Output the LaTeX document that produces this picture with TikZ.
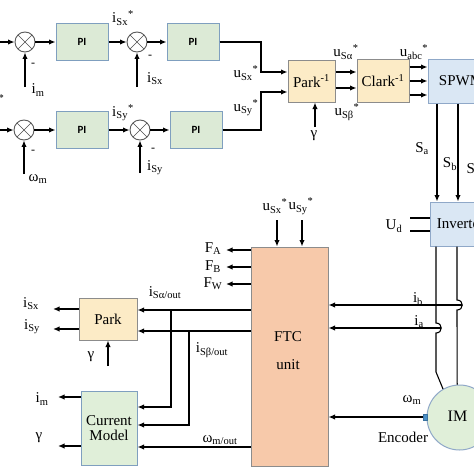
\documentclass[tikz,border=0pt]{standalone}
\usepackage{fontspec}
\setmainfont{Liberation Serif}
\newfontfamily\pifont{Carlito}
\usetikzlibrary{arrows.meta}
\definecolor{pifill}{HTML}{DCEAD6}
\definecolor{pibd}{HTML}{7F9FBF}
\definecolor{pkfill}{HTML}{FCEBC6}
\definecolor{pkbd}{HTML}{8C8C8C}
\definecolor{blfill}{HTML}{DAE7F4}
\definecolor{blbd}{HTML}{8FA8C8}
\definecolor{ftcfill}{HTML}{F7C9AA}
\definecolor{cmfill}{HTML}{E0EFD9}
\definecolor{encc}{HTML}{4A90C8}
\newcommand{\sx}[2]{#1\textsubscript{#2}}
\newcommand{\sxs}[2]{#1\textsubscript{#2}\textsuperscript{*}}
\begin{document}
\begin{tikzpicture}[x=1pt,y=-1pt,line width=1.3pt,
  >={Latex[length=6.5pt,width=5.5pt]},
  lab/.style={inner sep=0pt,font=\fontsize{15}{17}\selectfont},
  minus/.style={inner sep=0pt,font=\fontsize{12}{14}\selectfont},
  sumnode/.style={circle,draw=black!65,line width=0.9pt,fill=white,minimum size=20pt,inner sep=0pt,
    path picture={\draw[line width=0.7pt,black!70]
      (path picture bounding box.north west)--(path picture bounding box.south east)
      (path picture bounding box.north east)--(path picture bounding box.south west);}},
  pibox/.style={draw=pibd,fill=pifill,line width=1pt,minimum width=52pt,minimum height=37pt,inner sep=0pt,
    font=\pifont\bfseries\fontsize{11}{13}\selectfont},
  pkbox/.style={draw=pkbd,fill=pkfill,line width=1pt,inner sep=0pt,font=\fontsize{15}{17}\selectfont},
  blbox/.style={draw=blbd,fill=blfill,line width=1pt,inner sep=0pt,font=\fontsize{15}{17}\selectfont},
]
\useasboundingbox (0,0) rectangle (474,474);
\fill[white] (0,0) rectangle (474,474);
\clip (0,0) rectangle (474,474);

% ---------- nodes ----------
\node[sumnode] (s1) at (25,42) {};
\node[pibox] (pi1) at (82,42) {PI};
\node[sumnode] (s2) at (137,42) {};
\node[pibox] (pi2) at (193,42) {PI};
\node[sumnode] (s3) at (24,130) {};
\node[pibox] (pi3) at (82,130) {PI};
\node[sumnode] (s4) at (140,130) {};
\node[pibox] (pi4) at (196,130) {PI};

\node[pkbox,minimum width=47pt,minimum height=42pt] (park1) at (311.5,81) {Park\textsuperscript{-1}};
\node[pkbox,minimum width=52pt,minimum height=43pt] (clark) at (383,80.5) {Clark\textsuperscript{-1}};
\node[blbox,minimum width=66pt,minimum height=44pt] (spwm) at (461,81) {SPWM};
\node[blbox,minimum width=61pt,minimum height=44pt] (inv) at (460.5,224) {Inverter};

\node[pkbox,fill=ftcfill,minimum width=77pt,minimum height=219pt,align=center] (ftc) at (289.5,356.5) {};
\node[lab] (ftct) at (288,337) {FTC};
\node[lab] (ftcu) at (288,365) {unit};

\node[pkbox,minimum width=58pt,minimum height=42pt] (park2) at (108,319) {Park};
\node[pkbox,draw=pibd,fill=cmfill,minimum width=56pt,minimum height=74pt,align=center] (cm) at (109,428)
  {Current\\[-2pt]Model};

\node[circle,draw=blbd,fill=cmfill,line width=1pt,minimum size=65pt,inner sep=0pt,
  font=\fontsize{16}{18}\selectfont] (im) at (459.5,417.5) {\raisebox{3pt}{IM}\hspace*{4pt}};
\node[fill=encc,draw=encc!80!black,line width=0.4pt,minimum width=4pt,minimum height=6pt,inner sep=0pt] (enc) at (425,417) {};

% ---------- coordinates ----------
\coordinate (in1) at (0,42);
\coordinate (in2) at (0,130);
\coordinate (im1) at (25,87);
\coordinate (isx) at (137,87);
\coordinate (wm) at (24,174);
\coordinate (isy) at (140,173);
\coordinate (k1) at (261,72);
\coordinate (k2) at (261,92);
\coordinate (k3) at (340,88);
\coordinate (gk) at (315,127);
\coordinate (m1) at (415,67);
\coordinate (m2) at (415,81);
\coordinate (m3) at (415,95);
\coordinate (sa) at (437,150);
\coordinate (sb) at (458,150);
\coordinate (ud1) at (410,218);
\coordinate (ud2) at (410,231);
\coordinate (hb1) at (457,300);
\coordinate (hb2) at (457,310);
\coordinate (ib) at (462.25,305);
\coordinate (ha1) at (436,323);
\coordinate (ha2) at (436,333);
\coordinate (ha3) at (436,372);
\coordinate (ia) at (441.25,328);
\coordinate (ux) at (277,220);
\coordinate (uy) at (302,220);
\coordinate (fa) at (226,250);
\coordinate (fb) at (226,267);
\coordinate (fw) at (226,284);
\coordinate (ya) at (171,310);
\coordinate (yb) at (171,407);
\coordinate (za) at (189,331);
\coordinate (zb) at (189,425);
\coordinate (wo) at (200,447);
\coordinate (osx) at (53,309);
\coordinate (osy) at (53,329);
\coordinate (oim) at (58,397);
\coordinate (og) at (58,446);
\coordinate (gp) at (108,366);

% ---------- connectors ----------
\draw[->] (in1) -- (s1.west);
\draw[->] (s1.east) -- (pi1.west);
\draw[->] (pi1.east) -- (s2.west);
\draw[->] (s2.east) -- (pi2.west);
\draw[->] (im1) -- (s1.south);
\draw[->] (isx) -- (s2.south);
\draw[->] (in2) -- (s3.west);
\draw[->] (s3.east) -- (pi3.west);
\draw[->] (pi3.east) -- (s4.west);
\draw[->] (s4.east) -- (pi4.west);
\draw[->] (wm) -- (s3.south);
\draw[->] (isy) -- (s4.south);

\draw[->] (pi2.east) -| (k1) -- (k1 -| park1.west);
\draw[->] (pi4.east) -| (k2) -- (k2 -| park1.west);
\draw[->] (gk) -- (gk |- park1.south);
\draw[->] (park1.east |- k1) -- (clark.west |- k1);
\draw[->] (park1.east |- k3) -- (clark.west |- k3);
\draw[->] (clark.east |- m1) -- (spwm.west |- m1);
\draw[->] (clark.east |- m2) -- (spwm.west |- m2);
\draw[->] (clark.east |- m3) -- (spwm.west |- m3);
\draw[->] (spwm.south -| sa) -- (inv.north -| sa);
\draw[->] (spwm.south -| sb) -- (inv.north -| sb);
\draw (ud1) -- (ud1 -| inv.west);
\draw (ud2) -- (ud2 -| inv.west);

\draw[line width=1.1pt] (inv.south -| hb1) -- (hb1) .. controls +(7,0) and +(7,0) .. (hb2) -- (im.94);
\draw[line width=1.1pt] (inv.south -| ha1) -- (ha1) .. controls +(7,0) and +(7,0) .. (ha2) -- (ha3) -- (im.120);
\draw[->] (ib) -- (ib -| ftc.east);
\draw[->] (ia) -- (ia -| ftc.east);
\draw[->] (enc.west) -- (enc.west -| ftc.east);

\draw[->] (ux) -- (ux |- ftc.north);
\draw[->] (uy) -- (uy |- ftc.north);
\draw[->] (ftc.west |- fa) -- (fa);
\draw[->] (ftc.west |- fb) -- (fb);
\draw[->] (ftc.west |- fw) -- (fw);

\draw[->] (ftc.west |- ya) -- (park2.east |- ya);
\draw[->] (ftc.west |- za) -- (park2.east |- za);
\draw[->] (ya) -- (yb) -- (cm.east |- yb);
\draw[->] (za) -- (zb) -- (cm.east |- zb);
\draw[->] (ftc.west |- wo) -- (cm.east |- wo);

\draw[->] (park2.west |- osx) -- (osx);
\draw[->] (park2.west |- osy) -- (osy);
\draw[->] (cm.west |- oim) -- (oim);
\draw[->] (cm.west |- og) -- (og);
\draw[->] (gp) -- (park2.south);

% ---------- labels ----------
\node[lab] (lstar) at (1.5,101) {\textsuperscript{*}};
\node[minus] (m_1) at (33,65) {-};
\node[minus] (m_2) at (150,57) {-};
\node[minus] (m_3) at (33,152) {-};
\node[minus] (m_4) at (153,150) {-};
\node[lab] (l1) at (38,90) {\sx{i}{m}};
\node[lab] (l2) at (155,79) {\sx{i}{Sx}};
\node[lab] (l3) at (123,18) {\sxs{i}{Sx}};
\node[lab] (l4) at (123,113) {\sxs{i}{Sy}};
\node[lab] (l5) at (38,179) {\sx{ω}{m}};
\node[lab] (l6) at (155,168) {\sx{i}{Sy}};
\node[lab] (l7) at (246,73) {\sxs{u}{Sx}};
\node[lab] (l8) at (246,108) {\sxs{u}{Sy}};
\node[lab] (l9) at (346,52) {\sxs{u}{Sα}};
\node[lab] (l10) at (347,112) {\sxs{u}{Sβ}};
\node[lab] (l11) at (414,52) {\sxs{u}{abc}};
\node[lab] (l12) at (422,149) {\sx{S}{a}};
\node[lab] (l13) at (450,164) {\sx{S}{b}};
\node[lab,anchor=west] (l14) at (466,170) {\sx{S}{c}};
\node[lab] (l15) at (394,226) {\sx{U}{d}};
\node[lab] (l16) at (418,299) {\sx{i}{b}};
\node[lab] (l17) at (419,322) {\sx{i}{a}};
\node[lab] (l18) at (412,400) {\sx{ω}{m}};
\node[lab] (l19) at (403,437) {Encoder};
\node[lab] (l20) at (275,206) {\sxs{u}{Sx}};
\node[lab] (l21) at (301,206) {\sxs{u}{Sy}};
\node[lab] (l22) at (213,249) {\sx{F}{A}};
\node[lab] (l23) at (213,267) {\sx{F}{B}};
\node[lab] (l24) at (213,284) {\sx{F}{W}};
\node[lab] (l25) at (165,293) {\sx{i}{Sα/out}};
\node[lab] (l26) at (212,350) {\sx{i}{Sβ/out}};
\node[lab] (l27) at (220,440) {\sx{ω}{m/out}};
\node[lab] (l28) at (31,304) {\sx{i}{Sx}};
\node[lab] (l29) at (32,327) {\sx{i}{Sy}};
\node[lab] (l30) at (91,357) {γ};
\node[lab] (l31) at (42,399) {\sx{i}{m}};
\node[lab] (l32) at (39,438) {γ};
\node[lab] (l33) at (314,136) {γ};
\end{tikzpicture}
\end{document}
